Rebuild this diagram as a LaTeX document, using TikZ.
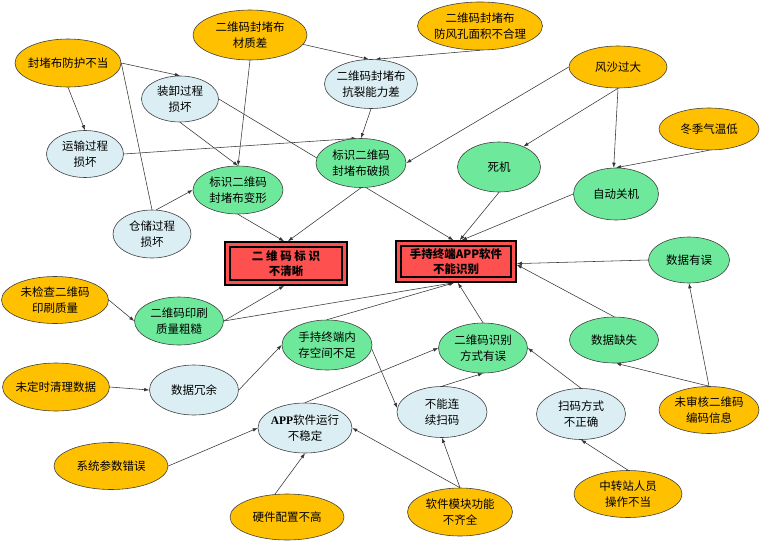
\documentclass[tikz,border=0pt]{standalone}
\usepackage{fontspec}
\setmainfont{Noto Sans CJK SC}
\newfontfamily\latfont{Liberation Serif}
\usetikzlibrary{arrows.meta,shapes.geometric,backgrounds}
\definecolor{causeorange}{HTML}{FFC000}
\definecolor{softblue}{HTML}{DAEEF3}
\definecolor{softgreen}{HTML}{6EE89B}
\definecolor{alertred}{HTML}{FF5050}

\begin{document}
\begin{tikzpicture}[x=1pt,y=-1pt,
  every node/.style={font=\fontsize{11.5}{16}\selectfont,align=center},
  sz/.style 2 args={minimum width=#1,minimum height=#2},
  bubble/.style={ellipse,draw=black!75,line width=0.6pt,inner sep=0pt},
  cause/.style={bubble,fill=causeorange},
  mid/.style={bubble,fill=softblue},
  effect/.style={bubble,fill=softgreen},
  result/.style={rectangle,draw=black,fill=alertred,line width=1.8pt,double=alertred,double distance=3pt,outer sep=3.3pt,font=\fontsize{11.5}{15}\selectfont\bfseries},
  link/.style={-{Latex[length=5pt,width=3.6pt]},black!80,line width=0.55pt}]
  \useasboundingbox (0,0) rectangle (760,541);

  \node[cause,sz={106}{48},inner xsep=-3pt] (prot) at (68,63) {封堵布防护不当};
  \node[cause,sz={114}{50}] (mat) at (250,35) {二维码封堵布\\材质差};
  \node[cause,sz={125}{48},inner xsep=-2pt] (vent) at (480,26) {二维码封堵布\\防风孔面积不合理};
  \node[cause,sz={98}{42}] (sand) at (618,67) {风沙过大};
  \node[cause,sz={100}{42}] (cold) at (709,129) {冬季气温低};
  \node[mid,sz={77}{46}] (load) at (180,99) {装卸过程\\损坏};
  \node[mid,sz={77}{47}] (trans) at (85,154) {运输过程\\损坏};
  \node[mid,sz={93}{49},inner xsep=-2pt] (crack) at (371,84) {二维码封堵布\\抗裂能力差};
  \node[mid,sz={78}{48}] (store) at (152,234) {仓储过程\\损坏};
  \node[effect,sz={90}{48}] (deform) at (238,190) {标识二维码\\封堵布变形};
  \node[effect,sz={90}{49}] (tear) at (361,163) {标识二维码\\封堵布破损};
  \node[effect,sz={83}{50}] (crash) at (499,167) {死机};
  \node[effect,sz={85}{52}] (shut) at (616,194) {自动关机};
  \node[result,sz={117}{38}] (unclear) at (286,263.5) {二~维~码~标~识\\不清晰};
  \node[result,sz={115}{36}] (fail) at (456,261.5) {手持终端APP软件\\不能识别};
  \node[effect,sz={81}{46}] (wrong) at (689,260) {数据有误};
  \node[effect,sz={89}{46}] (miss) at (614,340) {数据缺失};
  \node[cause,sz={100}{47}] (audit) at (709,410) {未审核二维码\\编码信息};
  \node[cause,sz={107}{47}] (check) at (55,300) {未检查二维码\\印刷质量};
  \node[effect,sz={89}{48}] (print) at (179,321) {二维码印刷\\质量粗糙};
  \node[cause,sz={107}{48},inner xsep=-3pt] (clean) at (56,387) {未定时清理数据};
  \node[mid,sz={89}{50}] (redund) at (194,390) {数据冗余};
  \node[effect,sz={90}{50}] (mem) at (327,345) {手持终端内\\存空间不足};
  \node[effect,sz={89}{50}] (mode) at (483,348) {二维码识别\\方式有误};
  \node[mid,sz={90}{51}] (cont) at (442,412) {不能连\\续扫码};
  \node[mid,sz={89}{51}] (scanm) at (581,414) {扫码方式\\不正确};
  \node[cause,sz={108}{47}] (staff) at (628,494) {中转站人员\\操作不当};
  \node[cause,sz={114}{47}] (param) at (111,466) {系统参数错误};
  \node[mid,sz={94}{50},inner xsep=-4pt] (unst) at (305,428) {{\latfont\bfseries APP}软件运行\\不稳定};
  \node[cause,sz={114}{46}] (hw) at (287,517) {硬件配置不高};
  \node[cause,sz={105}{48}] (module) at (460,512) {软件模块功能\\不齐全};

  \begin{scope}[on background layer]
    \draw[link] (prot.east) -- (load.north);
    \draw[link] (prot.south) -- (trans.north);
    \draw[black!80,line width=0.55pt] (prot.east) -- (store.north);
    \draw[link] (mat.south) -- (deform.north);
    \draw[link] (mat.-10) -- (crack.95);
    \draw[link] (vent.south) -- (crack.80);
    \draw[link] (load.south) -- (deform.north);
    \draw[link] (load.east) -- (fail.97);
    \draw[link] (trans.east) -- (tear.100);
    \draw[link] (store.80) -- (deform.west);
    \draw[link] (crack.south) -- (tear.north);
    \draw[link] (sand.west) -- (tear.east);
    \draw[link] (sand.south) -- (crash.40);
    \draw[link] (sand.south) -- (shut.95);
    \draw[link] (cold.south) -- (shut.north);
    \draw[link] (deform.south) -- (unclear.95);
    \draw[link] (tear.south) -- (unclear.85);
    \draw[link] (crash.south) -- (fail.80);
    \draw[link] (shut.west) -- (fail.75);
    \draw[link] (wrong.west) -- (fail.-2);
    \draw[link] (miss.north) -- (fail.-3);
    \draw[link] (audit.north) -- (wrong.south);
    \draw[link] (audit.north) -- (miss.-85);
    \draw[link] (check.east) -- (print.west);
    \draw[link] (print.east) -- (unclear.-95);
    \draw[link] (print.east) -- (fail.-97);
    \draw[link] (mem.north) -- (fail.-95);
    \draw[link] (mode.north) -- (fail.-85);
    \draw[link] (clean.east) -- (redund.west);
    \draw[link] (redund.east) -- (mem.west);
    \draw[link] (mem.-5) -- (cont.175);
    \draw[link] (unst.north) -- (mode.west);
    \draw[link] (cont.north) -- (mode.south);
    \draw[link] (scanm.north) -- (mode.east);
    \draw[link] (staff.north) -- (scanm.south);
    \draw[link] (param.east) -- (unst.west);
    \draw[link] (hw.118) -- (unst.south);
    \draw[link] (module.north) -- (unst.east);
    \draw[link] (module.north) -- (cont.south);
  \end{scope}
\end{tikzpicture}
\end{document}
